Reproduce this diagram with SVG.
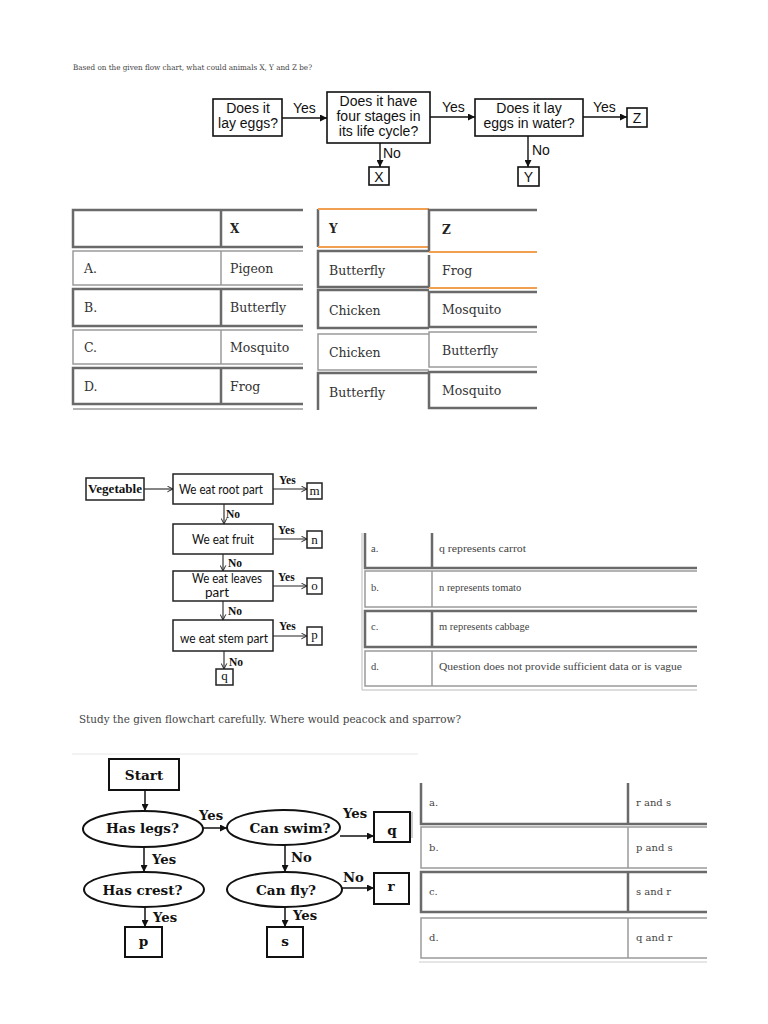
<svg xmlns="http://www.w3.org/2000/svg" width="768" height="1024" viewBox="0 0 768 1024">
<defs>
<marker id="tri" viewBox="0 0 10 10" refX="10" refY="5" markerWidth="7" markerHeight="7" markerUnits="userSpaceOnUse" orient="auto"><path d="M0,0 L10,5 L0,10 z" fill="#111"/></marker>
<marker id="chev" viewBox="0 0 10 10" refX="9" refY="5" markerWidth="7" markerHeight="7" markerUnits="userSpaceOnUse" orient="auto"><path d="M1,1 L9,5 L1,9" fill="none" stroke="#222" stroke-width="1.4"/></marker>
<style>
.q{font-family:"DejaVu Serif","Liberation Serif",serif;fill:#444}
.sans{font-family:"Liberation Sans",Arial,sans-serif;font-size:14px;fill:#111}
.box{fill:#fff;stroke:#111;stroke-width:1.6}
.vbox{fill:#fff;stroke:#222;stroke-width:1.5}
.bbox{fill:#fff;stroke:#111;stroke-width:2}
.c1{fill:none;stroke:#111;stroke-width:1.4}
.c2{fill:none;stroke:#222;stroke-width:1.1}
.c3{fill:none;stroke:#111;stroke-width:1.5}
.t1{font-family:"DejaVu Serif",serif;font-size:12.5px;fill:#333}
.t1b{font-family:"DejaVu Serif",serif;font-size:12px;font-weight:bold;fill:#222}
.t2{font-family:"Liberation Serif","Times New Roman",serif;font-size:10.5px;fill:#444}
.t3{font-family:"DejaVu Serif",serif;font-size:10px;fill:#444}
.thk{fill:none;stroke:#6a6a6a;stroke-width:2.5}
.thn{fill:none;stroke:#9a9a9a;stroke-width:1.5}
.org{fill:none;stroke:#f0a050;stroke-width:2}
.vt{font-family:Lato,"Open Sans",sans-serif;font-size:13.5px;fill:#111}
.vl{font-family:"Liberation Serif",serif;font-size:11.5px;font-weight:bold;fill:#111}
.vm{font-family:"Liberation Serif",serif;font-size:13px;fill:#111}
.bt{font-family:"DejaVu Serif","Liberation Serif",serif;font-weight:bold;font-size:13.6px;fill:#111}
.bl{font-family:"DejaVu Serif","Liberation Serif",serif;font-weight:bold;font-size:13.2px;fill:#111}
</style>
</defs>
<rect width="768" height="1024" fill="#fff"/>

<!-- Question 1 -->
<text class="q" x="73" y="70" font-size="7.5" textLength="239" lengthAdjust="spacingAndGlyphs">Based on the given flow chart, what could animals X, Y and Z be?</text>

<g id="q1-connectors">
<line class="c1" x1="282" y1="118" x2="327" y2="118" marker-end="url(#tri)"/>
<line class="c1" x1="430" y1="117" x2="475" y2="117" marker-end="url(#tri)"/>
<line class="c1" x1="583" y1="117" x2="627" y2="117" marker-end="url(#tri)"/>
<line class="c1" x1="380" y1="143" x2="380" y2="167" marker-end="url(#tri)"/>
<line class="c1" x1="528" y1="136" x2="528" y2="167" marker-end="url(#tri)"/>
<text class="sans" x="293" y="113">Yes</text>
<text class="sans" x="442" y="112">Yes</text>
<text class="sans" x="593" y="112">Yes</text>
<text class="sans" x="383" y="158">No</text>
<text class="sans" x="532" y="155">No</text>
</g>
<g id="q1-lay-eggs">
<rect class="box" x="213" y="99" width="69" height="37"/>
<text class="sans" x="248" y="113" text-anchor="middle">Does it</text>
<text class="sans" x="248" y="128" text-anchor="middle">lay eggs?</text>
</g>
<g id="q1-four-stages">
<rect class="box" x="327" y="92" width="103" height="51"/>
<text class="sans" x="378.5" y="106" text-anchor="middle">Does it have</text>
<text class="sans" x="378.5" y="121" text-anchor="middle">four stages in</text>
<text class="sans" x="378.5" y="136" text-anchor="middle">its life cycle?</text>
</g>
<g id="q1-water">
<rect class="box" x="475" y="99" width="108" height="37"/>
<text class="sans" x="529" y="113" text-anchor="middle">Does it lay</text>
<text class="sans" x="529" y="128" text-anchor="middle">eggs in water?</text>
</g>
<g id="q1-Z"><rect class="box" x="627" y="108" width="20" height="19"/><text class="sans" x="637" y="123" text-anchor="middle" font-size="15">Z</text></g>
<g id="q1-X"><rect class="box" x="369" y="167" width="20" height="18"/><text class="sans" x="379" y="182" text-anchor="middle" font-size="15">X</text></g>
<g id="q1-Y"><rect class="box" x="518" y="167" width="21" height="19"/><text class="sans" x="528.5" y="182" text-anchor="middle" font-size="15">Y</text></g>

<!-- Table 1 -->
<g id="table1">
<path class="thk" d="M303,210 H73 V247 H303 M221,210 V247"/>
<path class="thn" d="M303,251 H73 V285 H303 M221,251 V285"/>
<path class="thk" d="M303,289 H73 V326 H303 M221,289 V326"/>
<path class="thn" d="M303,330 H73 V364 H303 M221,330 V364"/>
<path class="thk" d="M303,368 H73 V404 H303 M221,368 V404"/>
<line class="thn" x1="73" y1="409" x2="303" y2="409" stroke="#ccc"/>

<path class="thk" d="M318,209 V247"/>
<path class="org" d="M318,209 H429 M318,247 H429"/>
<path class="thk" d="M429,251 H318 V287 H429"/>
<path class="thk" d="M429,290 H318 V328 H429"/>
<path class="thn" d="M429,334 H318 V370 H429"/>
<path class="thk" d="M429,373 H318 V410"/>

<path class="thk" d="M537,210 H429 V251"/>
<path class="org" d="M429,252 H537"/>
<path class="thk" d="M429,255 V288"/>
<path class="org" d="M429,288 H537"/>
<path class="thk" d="M537,292 H429 V327 H537"/>
<path class="thn" d="M537,332 H429 V367 H537"/>
<path class="thk" d="M537,372 H429 V408 H537"/>

<text class="t1b" x="230" y="233">X</text>
<text class="t1b" x="329" y="233">Y</text>
<text class="t1b" x="442" y="234">Z</text>
<text class="t1" x="84" y="273" font-size="11.5">A.</text>
<text class="t1" x="230" y="273">Pigeon</text>
<text class="t1" x="329" y="275">Butterfly</text>
<text class="t1" x="442" y="275">Frog</text>
<text class="t1" x="84" y="312" font-size="11.5">B.</text>
<text class="t1" x="230" y="312">Butterfly</text>
<text class="t1" x="329" y="315">Chicken</text>
<text class="t1" x="442" y="314">Mosquito</text>
<text class="t1" x="84" y="352" font-size="11.5">C.</text>
<text class="t1" x="230" y="352">Mosquito</text>
<text class="t1" x="329" y="357">Chicken</text>
<text class="t1" x="442" y="355">Butterfly</text>
<text class="t1" x="84" y="391" font-size="11.5">D.</text>
<text class="t1" x="230" y="391">Frog</text>
<text class="t1" x="329" y="397">Butterfly</text>
<text class="t1" x="442" y="395">Mosquito</text>
</g>

<!-- Vegetable flowchart -->
<g id="veg-connectors">
<line class="c2" x1="144" y1="489" x2="173" y2="489" marker-end="url(#chev)"/>
<line class="c2" x1="273" y1="489" x2="307" y2="489" marker-end="url(#chev)"/>
<line class="c2" x1="273" y1="539" x2="307" y2="539" marker-end="url(#chev)"/>
<line class="c2" x1="273" y1="586" x2="307" y2="586" marker-end="url(#chev)"/>
<line class="c2" x1="273" y1="636" x2="307" y2="636" marker-end="url(#chev)"/>
<line class="c2" x1="224" y1="504" x2="224" y2="524" marker-end="url(#chev)"/>
<line class="c2" x1="223" y1="554" x2="223" y2="571" marker-end="url(#chev)"/>
<line class="c2" x1="223" y1="601" x2="223" y2="620" marker-end="url(#chev)"/>
<line class="c2" x1="224" y1="651" x2="224" y2="669" marker-end="url(#chev)"/>
<text class="vl" x="279" y="484">Yes</text>
<text class="vl" x="278" y="534">Yes</text>
<text class="vl" x="278" y="581">Yes</text>
<text class="vl" x="279" y="630">Yes</text>
<text class="vl" x="226" y="518">No</text>
<text class="vl" x="228" y="567">No</text>
<text class="vl" x="228" y="615">No</text>
<text class="vl" x="229" y="666">No</text>
</g>
<g id="veg-vegetable"><rect class="vbox" x="86" y="478" width="58" height="22"/><text x="115" y="493" text-anchor="middle" font-family="Liberation Serif,serif" font-weight="bold" font-size="12.5" textLength="54" lengthAdjust="spacingAndGlyphs" fill="#111">Vegetable</text></g>
<g id="veg-root"><rect class="vbox" x="173" y="474" width="100" height="30"/><text class="vt" x="221" y="494" text-anchor="middle" textLength="84" lengthAdjust="spacingAndGlyphs">We eat root part</text></g>
<g id="veg-fruit"><rect class="vbox" x="173" y="524" width="100" height="30"/><text class="vt" x="223" y="544" text-anchor="middle" textLength="62" lengthAdjust="spacingAndGlyphs">We eat fruit</text></g>
<g id="veg-leaves"><rect class="vbox" x="173" y="571" width="100" height="30"/><text class="vt" x="227" y="583" text-anchor="middle" textLength="70" lengthAdjust="spacingAndGlyphs">We eat leaves</text><text class="vt" x="217" y="597" text-anchor="middle">part</text></g>
<g id="veg-stem"><rect class="vbox" x="173" y="620" width="100" height="31"/><text class="vt" x="224" y="643" text-anchor="middle" textLength="88" lengthAdjust="spacingAndGlyphs">we eat stem part</text></g>
<g id="veg-m"><rect class="vbox" x="307" y="483" width="15" height="16" stroke-width="1.2"/><text class="vm" x="314.5" y="495" text-anchor="middle">m</text></g>
<g id="veg-n"><rect class="vbox" x="307" y="531" width="15" height="17" stroke-width="1.2"/><text class="vm" x="314.5" y="544" text-anchor="middle">n</text></g>
<g id="veg-o"><rect class="vbox" x="307" y="578" width="15" height="16" stroke-width="1.2"/><text class="vm" x="314.5" y="590" text-anchor="middle">o</text></g>
<g id="veg-p"><rect class="vbox" x="307" y="627" width="15" height="18" stroke-width="1.2"/><text class="vm" x="314.5" y="639" text-anchor="middle">p</text></g>
<g id="veg-q"><rect class="vbox" x="216" y="669" width="17" height="16" stroke-width="1.2"/><text class="vm" x="224.5" y="680" text-anchor="middle">q</text></g>

<!-- Table 2 -->
<g id="table2">
<path d="M362,533 V690 H697" fill="none" stroke="#bbb" stroke-width="1"/>
<path class="thk" d="M365,533 V568 H697 M432,533 V568"/>
<path class="thn" d="M697,571 H365 V607 H697 M432,571 V607"/>
<path class="thk" d="M697,611 H365 V647 H697 M432,611 V647"/>
<path class="thn" d="M697,651 H365 V686 H697 M432,651 V686"/>
<text class="t2" x="371" y="552">a.</text>
<text class="t2" x="439" y="552" textLength="87" lengthAdjust="spacingAndGlyphs">q represents carrot</text>
<text class="t2" x="371" y="591">b.</text>
<text class="t2" x="439" y="591">n represents tomato</text>
<text class="t2" x="371" y="630">c.</text>
<text class="t2" x="439" y="630">m represents cabbage</text>
<text class="t2" x="371" y="670">d.</text>
<text class="t2" x="439" y="670" textLength="243" lengthAdjust="spacingAndGlyphs">Question does not provide sufficient data or is vague</text>
</g>

<!-- Question 3 -->
<text class="q" x="79" y="723" font-size="10.5" textLength="382" lengthAdjust="spacingAndGlyphs">Study the given flowchart carefully. Where would peacock and sparrow?</text>
<line x1="72" y1="754" x2="418" y2="754" stroke="#e6e6e6" stroke-width="1"/>

<g id="b-connectors">
<line class="c3" x1="145" y1="790" x2="145" y2="811" marker-end="url(#tri)"/>
<line class="c3" x1="203" y1="828" x2="227" y2="828" marker-end="url(#tri)"/>
<line class="c3" x1="340" y1="836" x2="374" y2="836" marker-end="url(#tri)"/>
<line class="c3" x1="144" y1="847" x2="144" y2="872" marker-end="url(#tri)"/>
<line class="c3" x1="285" y1="845" x2="285" y2="872" marker-end="url(#tri)"/>
<line class="c3" x1="342" y1="888" x2="374" y2="888" marker-end="url(#tri)"/>
<line class="c3" x1="145" y1="907" x2="145" y2="927" marker-end="url(#tri)"/>
<line class="c3" x1="285" y1="907" x2="285" y2="927" marker-end="url(#tri)"/>
<text class="bl" x="199" y="820">Yes</text>
<text class="bl" x="343" y="818">Yes</text>
<text class="bl" x="152" y="864">Yes</text>
<text class="bl" x="291" y="862">No</text>
<text class="bl" x="343" y="882">No</text>
<text class="bl" x="153" y="922">Yes</text>
<text class="bl" x="293" y="920">Yes</text>
</g>
<g id="b-start"><rect class="bbox" x="109" y="759" width="70" height="31"/><text class="bt" x="144" y="780" text-anchor="middle" font-size="14.5">Start</text></g>
<g id="b-has-legs"><ellipse class="bbox" cx="143" cy="829" rx="60" ry="18"/><text class="bt" x="142.5" y="833" text-anchor="middle">Has legs?</text></g>
<g id="b-can-swim"><ellipse class="bbox" cx="283.5" cy="827.5" rx="56.5" ry="17.5"/><text class="bt" x="290" y="833" text-anchor="middle">Can swim?</text></g>
<g id="b-has-crest"><ellipse class="bbox" cx="144" cy="889.5" rx="60" ry="17.5"/><text class="bt" x="142.5" y="895" text-anchor="middle">Has crest?</text></g>
<g id="b-can-fly"><ellipse class="bbox" cx="284.5" cy="889.5" rx="57.5" ry="17.5"/><text class="bt" x="286" y="895" text-anchor="middle">Can fly?</text></g>
<g id="b-q"><rect class="bbox" x="374" y="812" width="36" height="30"/><text class="bt" x="392" y="835" text-anchor="middle" font-size="15">q</text></g>
<g id="b-r"><rect class="bbox" x="374" y="873" width="35" height="31"/><text class="bt" x="391" y="891" text-anchor="middle" font-size="15">r</text></g>
<g id="b-p"><rect class="bbox" x="125" y="927" width="37" height="30"/><text class="bt" x="143.5" y="946" text-anchor="middle" font-size="15">p</text></g>
<g id="b-s"><rect class="bbox" x="267" y="927" width="36" height="30"/><text class="bt" x="285" y="946" text-anchor="middle" font-size="15">s</text></g>

<!-- Table 3 -->
<g id="table3">
<line x1="412" y1="812" x2="412" y2="838" stroke="#bbb" stroke-width="1.5"/>
<path class="thk" d="M421,783 V824 H707 M628,783 V824"/>
<path class="thn" d="M707,827 H421 V868 H707 M628,827 V868"/>
<path class="thk" d="M707,872 H421 V912 H707 M628,872 V912"/>
<path class="thn" d="M707,918 H421 V958 H707 M628,918 V958"/>
<line x1="419" y1="962" x2="707" y2="962" stroke="#ccc" stroke-width="1"/>
<text class="t3" x="429" y="806">a.</text>
<text class="t3" x="636" y="806">r and s</text>
<text class="t3" x="429" y="851">b.</text>
<text class="t3" x="636" y="851">p and s</text>
<text class="t3" x="429" y="895">c.</text>
<text class="t3" x="636" y="895">s and r</text>
<text class="t3" x="429" y="941">d.</text>
<text class="t3" x="636" y="941">q and r</text>
</g>
</svg>
